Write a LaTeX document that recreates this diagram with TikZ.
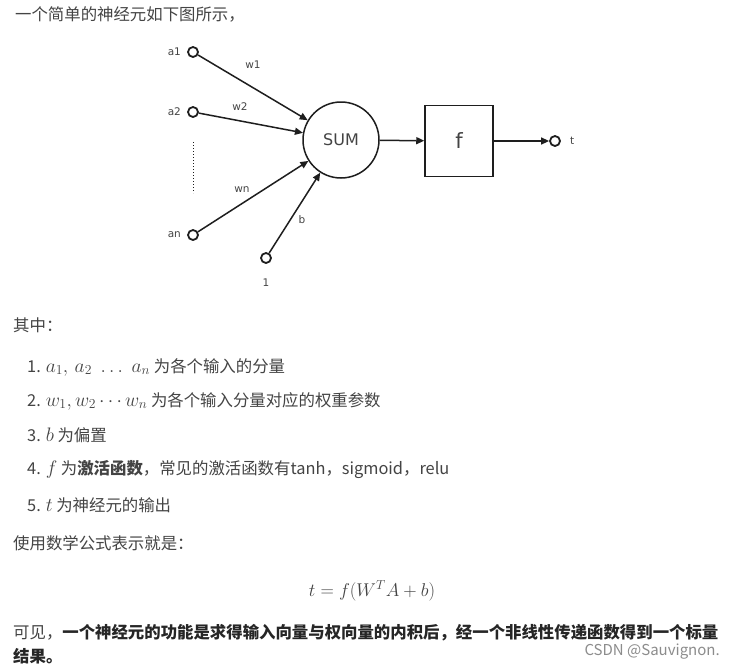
\RequirePackage{fix-cm}
\documentclass[tikz,border=0pt]{standalone}
\usepackage{fontspec}
\setmainfont{Noto Sans CJK SC}
\newfontfamily\diagfont{DejaVu Sans}
\usetikzlibrary{positioning,arrows.meta}
\definecolor{txtgray}{RGB}{68,68,68}
\definecolor{linegray}{RGB}{30,30,30}
\newcommand{\inmath}[1]{{\fontsize{19.5}{20}\selectfont$#1$}}

\begin{document}
\begin{tikzpicture}[x=1pt,y=-1pt,
  inp/.style={circle,draw=linegray,line width=1.8pt,minimum size=10pt,inner sep=0pt},
  lbl/.style={font=\diagfont\fontsize{10.5}{12}\selectfont,text=txtgray,inner sep=1pt},
  conn/.style={-{Triangle[length=8pt,width=7pt]},line width=1.5pt,draw=linegray},
  body/.style={anchor=west,font=\fontsize{16.4}{19}\selectfont,text=txtgray,inner sep=0pt}]
\useasboundingbox[fill=white] (0,0) rectangle (734,670);
\node[body] (title) at (15,14) {一个简单的神经元如下图所示，};
% inputs of the neuron
\node[inp] (a1) at (193,52) {};
\node[inp] (a2) at (193,112) {};
\node[inp] (an) at (193,235) {};
\node[inp] (one) at (266,258) {};
\node[lbl,left=5pt of a1] (la1) {a1};
\node[lbl,left=5pt of a2] (la2) {a2};
\node[lbl,left=5pt of an] (lan) {an};
\node[lbl,below=14pt of one] (lone) {1};
\coordinate (dtop) at (193,142);
\coordinate (dbot) at (193,193);
\draw[dotted,line width=1pt,linegray] (dtop) -- (dbot);
% sum and activation
\node[circle,draw=linegray,line width=1.5pt,minimum size=76pt,
      font=\diagfont\fontsize{16}{19}\selectfont,text=txtgray] (sum) at (341,140) {SUM};
\node[rectangle,draw=linegray,line width=1.5pt,minimum width=68pt,minimum height=71pt,
      font=\diagfont\fontsize{21}{24}\selectfont,text=txtgray] (f) at (459,141) {f};
\node[inp] (t) at (555,141) {};
\node[lbl,right=8pt of t] (lt) {t};
\draw[conn] (a1) -- (sum);
\draw[conn] (a2) -- (sum);
\draw[conn] (an) -- (sum);
\draw[conn] (one) -- (sum);
\draw[conn] (sum) -- (f);
\draw[conn] (f) -- (t);
\node[lbl] (w1) at (253,65) {w1};
\node[lbl] (w2) at (240,107) {w2};
\node[lbl] (wn) at (242,190) {wn};
\node[lbl] (b) at (302,220) {b};
% explanation
\node[body] (where) at (13,325) {其中：};
\node[body] (i1) at (27,367) {1. \inmath{a_1,\, a_2 \;\ldots\; a_n} 为各个输入的分量};
\node[body] (i2) at (27,401) {2. \inmath{w_1, w_2 \cdots w_n} 为各个输入分量对应的权重参数};
\node[body] (i3) at (27,435) {3. \inmath{b} 为偏置};
\node[body] (i4) at (27,470) {4. \inmath{f} 为\textbf{激活函数}，常见的激活函数有tanh，sigmoid，relu};
\node[body] (i5) at (27,505) {5. \inmath{t} 为神经元的输出};
\node[body] (use) at (13,543) {使用数学公式表示就是：};
\node[font=\fontsize{18.5}{21}\selectfont,text=txtgray] (formula) at (372,591) {$t = f(W^T A + b)$};
\node[body] (concl) at (13,633) {可见，\textbf{\color{black!85}一个神经元的功能是求得输入向量与权向量的内积后，经一个非线性传递函数得到一个标量}};
\node[body] (concl2) at (13,656) {\textbf{\color{black!85}结果。}};
\node[anchor=east,font=\fontsize{15}{17}\selectfont,text=gray!90,inner sep=0pt] (mark) at (720,652) {CSDN @Sauvignon.};
\end{tikzpicture}
\end{document}
